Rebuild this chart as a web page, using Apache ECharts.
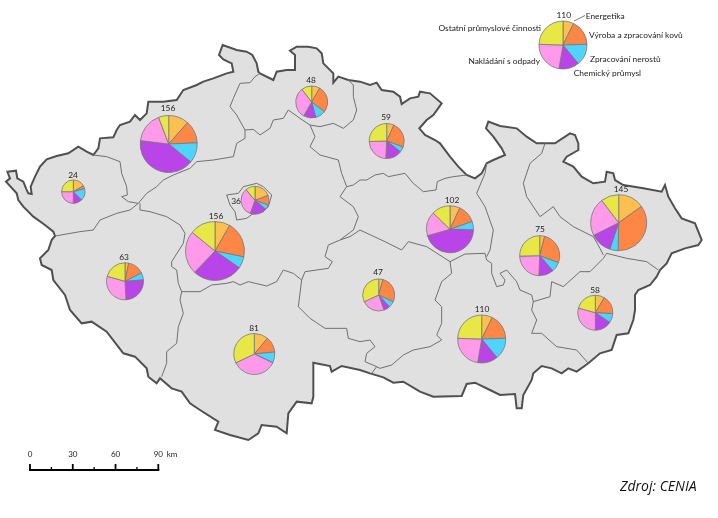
<!DOCTYPE html>
<html>
<head>
<meta charset="utf-8">
<title>Průmyslová činnost podle krajů</title>
<script src="https://cdn.jsdelivr.net/npm/echarts@6/dist/echarts.min.js"></script>
<style>
  html, body { margin: 0; padding: 0; background: #fff; }
  #main { width: 718px; height: 518px; }
</style>
</head>
<body>
<div id="main"></div>
<script>
var sectors = ['Energetika', 'Výroba a zpracování kovů', 'Zpracování nerostů', 'Chemický průmysl', 'Nakládání s odpady', 'Ostatní průmyslové činnosti'];
var sectorColors = ['#fdbf4f', '#ff8746', '#4fd3ff', '#b944e8', '#ff9aea', '#e7e745'];

var regions = ['Legenda', 'Ústecký', 'Karlovarský', 'Liberecký', 'Královéhradecký', 'Praha', 'Středočeský', 'Plzeňský', 'Jihočeský', 'Vysočina', 'Pardubický', 'Olomoucký', 'Zlínský', 'Moravskoslezský', 'Jihomoravský'];
var totals = [110, 156, 24, 48, 59, 36, 156, 63, 81, 47, 102, 75, 58, 145, 110];

// counts per region, same order as sectors
var energetika = [8, 18, 4, 4, 4, 7, 13, 2, 9, 2, 7, 3, 5, 22, 8];
var kovy = [19, 20, 1, 13, 14, 4, 31, 9, 10, 13, 13, 20, 10, 51, 19];
var nerosty = [16, 18, 4, 5, 3, 2, 10, 4, 7, 3, 6, 6, 5, 7, 16];
var chemie = [15, 64, 3, 6, 9, 7, 43, 16, 0, 3, 46, 9, 9, 18, 15];
var odpady = [25, 27, 6, 15, 14, 12, 37, 19, 29, 11, 17, 18, 17, 32, 25];
var ostatni = [27, 9, 6, 5, 15, 4, 22, 13, 26, 15, 13, 19, 12, 15, 27];

// pie placement on the page: x, y, radius
var pieSpots = [
  [563, 45, 24], [168.7, 144, 28.5], [73.3, 191.7, 11.7], [311.7, 102, 16], [386.7, 141, 17.5],
  [255, 200.3, 14], [215, 251, 29.5], [125, 281.3, 18.5], [254.3, 354, 20.5], [378.7, 295, 16],
  [450, 229.3, 23.5], [539.7, 255.7, 20], [595.3, 312.7, 17.5], [618.7, 222.7, 28], [481.7, 339, 24]
];
// where each total is written
var totalSpots = [
  [563.7, 15], [168, 108], [73, 175], [311, 80], [386, 117], [236, 201], [216, 216], [124, 257],
  [254, 328], [378, 272], [452, 200], [540, 229], [595, 290], [621, 189], [482, 309]
];

// map lines were traced on 3x crops, so they get scaled back with an offset
function px(ox, oy, pts) {
  return pts.map(function (p) { return [p[0] / 3 + ox, p[1] / 3 + oy]; });
}

var outline = [].concat(
  px(0, 30, [[22,425],[48,422],[52,445],[70,455],[78,475],[85,490],[95,492],[92,470],[105,440],[120,410],[140,388],[170,378],[205,370],[235,350],[260,365],[280,375],[295,355],[300,325],[340,322],[350,300],[360,285],[390,275],[405,255],[420,270],[440,250],[445,215],[490,215],[530,210],[550,180],[590,165],[610,155],[640,145],[680,130],[700,125],[695,100],[670,88],[657,75],[668,45],[710,60],[740,65],[757,75],[770,100],[775,125],[780,130],[820,150],[830,125],[860,120],[885,120],[885,75],[870,62],[890,50],[925,50],[950,55],[965,70],[970,100],[1000,130],[1000,158],[1015,140],[1045,150]]),
  px(360, 0, [[0,245],[30,255],[50,248],[65,270],[100,275],[120,290],[125,312],[150,295],[175,290],[180,275],[210,280],[245,310],[220,345],[200,360],[178,385],[195,405],[225,420],[240,430],[270,470],[295,500],[320,525],[345,535],[365,520],[380,490],[400,480],[435,465],[425,445],[400,410],[378,385],[385,365],[420,378],[470,385],[500,410],[530,430],[555,430],[585,430],[630,400],[645,405],[655,430],[655,450],[620,470],[610,485],[640,500],[665,530],[700,550],[735,545],[740,515],[760,520],[765,540],[790,555],[850,565],[905,575],[915,555],[925,590],[945,625],[965,655],[1005,670],[1025,720]]),
  px(360, 240, [[1025,0],[1015,15],[975,25],[935,40],[920,70],[900,90],[890,110],[870,135],[835,150],[825,165],[825,210],[820,240],[805,280],[770,285],[755,330],[720,340],[685,370],[650,395],[625,385],[605,400],[575,385],[545,378],[520,400],[515,420],[490,465],[485,505],[470,505],[465,462],[420,465],[390,450],[345,428],[320,432],[305,468],[220,470],[180,455],[130,425],[100,428],[70,412],[30,400],[0,390]]),
  px(0, 240, [[1025,378],[995,395],[990,378],[940,368],[940,470],[935,490],[890,485],[865,520],[860,580],[830,560],[785,555],[775,580],[745,600],[690,585],[645,570],[655,545],[600,510],[570,490],[545,455],[515,445],[480,415],[470,430],[445,410],[440,385],[405,350],[370,340],[320,275],[275,245],[245,250],[210,210],[195,165],[160,120],[155,90],[125,75],[120,55],[145,30],[155,0]]),
  px(0, 30, [[165,618],[160,605],[135,585],[100,560],[70,530],[55,510],[50,490],[18,455],[30,445],[22,425]])
);

var borders = [
  px(0, 30, [[280,375],[320,380],[360,395],[365,430],[380,470],[382,495],[365,500],[385,515],[415,520],[390,540],[350,550],[300,570],[280,600],[240,605],[165,618]]),
  px(0, 30, [[415,520],[440,490],[470,470],[490,450],[520,435],[570,415],[590,395],[640,390],[700,380],[710,340],[735,325],[735,300],[760,298],[780,315],[810,295],[820,270],[850,265],[865,240],[900,265],[930,285]]),
  px(0, 30, [[735,300],[710,255],[690,230],[700,205],[720,160],[750,158],[765,140],[780,130]]),
  px(0, 30, [[420,520],[420,540],[450,545],[500,560],[540,585],[555,610],[550,640]]).concat(
    px(0, 240, [[515,65],[515,80],[530,90],[535,130],[545,155],[540,180],[550,220],[535,260],[530,310],[500,335],[500,370],[485,410]])),
  px(0, 240, [[545,155],[600,155],[635,135],[680,130],[700,125],[720,135],[745,125],[800,138],[830,125],[850,90],[880,100],[905,120],[915,95],[985,85],[997,65],[975,50],[985,15],[1020,0]]),
  px(0, 30, [[1045,150],[1060,165],[1060,200],[1070,240],[1060,270],[1030,295],[1000,280],[960,290],[930,285],[945,320],[930,350],[960,375],[1015,390],[1025,430],[1040,470],[1020,500],[1060,530],[1075,560],[1060,600],[1020,630]]),
  px(0, 30, [[1040,470],[1060,465],[1080,450]]).concat(
    px(360, 0, [[20,540],[45,525],[70,520],[85,530],[110,525],[135,520],[160,550],[190,575],[228,570],[232,545],[255,535],[280,530],[320,525]])),
  px(360, 0, [[380,490],[375,520],[350,580],[375,620],[400,690],[390,750]]).concat(px(360, 240, [[380,50]])),
  px(0, 240, [[1020,0],[1050,-10],[1080,-30]]).concat(
    px(360, 240, [[75,5],[125,30],[145,5],[200,20],[270,65],[315,42],[375,40],[380,60],[395,70],[395,100],[410,140],[430,135],[435,120],[420,100],[440,90],[470,125],[480,150],[515,165],[520,185]])),
  px(0, 240, [[905,120],[895,200],[930,235],[975,265],[1040,265],[1045,295],[1080,305]]).concat(
    px(360, 240, [[30,300],[45,320],[20,340],[15,365],[50,380],[35,400]])),
  px(360, 240, [[270,65],[275,100],[245,125],[225,180],[245,200],[245,250],[230,285],[245,300],[210,320],[160,330],[130,345],[95,375],[60,385],[50,380]]),
  px(360, 240, [[520,185],[515,210],[530,240],[515,280],[545,280],[590,320],[650,330],[685,370]]),
  px(360, 240, [[520,185],[570,170],[575,125],[610,140],[660,95],[690,95],[730,55],[740,40],[800,55],[860,65],[895,90]]),
  px(360, 0, [[555,430],[545,460],[510,490],[490,550],[500,590],[540,650],[580,620],[600,650],[640,680],[700,710],[720,745],[730,765]]),
  // Praha
  px(0, 30, [[680,495],[715,490],[730,470],[770,460],[790,470],[815,495],[805,530],[790,545],[760,550],[740,565],[710,570],[705,545],[690,525],[680,495]])
];

function flip(p) { return [p[0], -p[1]]; }

echarts.registerMap('cz', {
  type: 'FeatureCollection',
  features: [{
    type: 'Feature',
    properties: { name: 'Česko' },
    geometry: { type: 'Polygon', coordinates: [outline.map(flip)] }
  }]
});

var myChart = echarts.init(document.getElementById('main'));

var series = [{
  type: 'lines',
  coordinateSystem: 'geo',
  polyline: true,
  silent: true,
  z: 3,
  lineStyle: { color: '#707070', width: 1, opacity: 1 },
  data: borders.map(function (b) { return { coords: b.map(flip) }; })
}];

regions.forEach(function (name, i) {
  var counts = [energetika[i], kovy[i], nerosty[i], chemie[i], odpady[i], ostatni[i]];
  series.push({
    type: 'pie',
    name: name,
    center: [pieSpots[i][0], pieSpots[i][1]],
    radius: [0, pieSpots[i][2]],
    startAngle: 90,
    silent: true,
    z: 5,
    label: { show: false },
    labelLine: { show: false },
    itemStyle: { borderColor: '#777', borderWidth: 0.8 },
    data: counts.map(function (v, k) {
      return { name: sectors[k], value: v, itemStyle: { color: sectorColors[k] } };
    })
  });
});

var font = 'Lato, sans-serif';

function note(x, y, text, align, size, extra) {
  return {
    type: 'text',
    x: x,
    y: y,
    z: 20,
    style: Object.assign({
      text: text,
      fill: '#222',
      font: (size || 8.4) + 'px ' + font,
      textAlign: align || 'center',
      textVerticalAlign: 'middle'
    }, extra || {})
  };
}

function stroke(x1, y1, x2, y2, w, color) {
  return {
    type: 'line',
    z: 20,
    shape: { x1: x1, y1: y1, x2: x2, y2: y2 },
    style: { stroke: color || '#000', lineWidth: w }
  };
}

var graphics = totals.map(function (t, i) {
  return note(totalSpots[i][0], totalSpots[i][1], String(t));
});

// legend labels around the sample pie
graphics.push(
  note(585.7, 16, sectors[0], 'left'),
  note(589, 35, sectors[1], 'left'),
  note(590, 59, sectors[2], 'left'),
  note(573.7, 73, sectors[3], 'left'),
  note(540, 61, sectors[4], 'right'),
  note(541, 28, sectors[5], 'right'),
  stroke(574, 21, 585, 15.5, 0.8, '#555')
);

// scale bar
var scaleTicks = [0, 30, 60, 90];
var kmPerPixel = 90 / 128.3;
graphics.push(stroke(29, 470, 159.3, 470, 2));
[0, 15, 30, 45, 60, 75, 90].forEach(function (km) {
  var x = 30 + km / kmPerPixel;
  graphics.push(stroke(x, km % 30 === 0 ? 464 : 467, x, 470, km % 30 === 0 ? 1.8 : 1.3));
});
scaleTicks.forEach(function (km) {
  graphics.push(note(30 + km / kmPerPixel, 454.7, String(km), 'center', 8));
});
graphics.push(note(172, 454.7, 'km', 'center', 8));

graphics.push(note(620, 486.7, 'Zdroj: CENIA', 'left', 14, {
  font: 'italic 14px "Open Sans", sans-serif',
  fill: '#111'
}));

var option = {
  backgroundColor: '#fff',
  animation: false,
  geo: {
    map: 'cz',
    silent: true,
    left: 0,
    top: 0,
    right: 0,
    bottom: 0,
    aspectScale: 1,
    boundingCoords: [[0, 0], [718, -518]],
    label: { show: false },
    itemStyle: { areaColor: '#e0e0e0', borderColor: '#505050', borderWidth: 2 }
  },
  graphic: { elements: graphics },
  series: series
};

myChart.setOption(option);
</script>
</body>
</html>
